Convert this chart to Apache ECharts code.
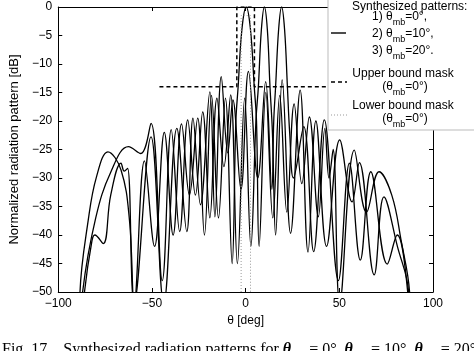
<!DOCTYPE html>
<html>
<head>
<meta charset="utf-8">
<script src="https://cdn.jsdelivr.net/npm/echarts@6/dist/echarts.min.js"></script>
<style>
  html, body { margin: 0; padding: 0; background: #fff; }
  #chart { width: 474px; height: 351px; }
</style>
</head>
<body>
<div id="chart"></div>
<script>
// [theta (deg), level (dB)]: nulls, lobe tops, beam shoulders
var pattern0 = [
    [-89, -62], [-88.4, -50], [-84, -37.4], [-79.6, -29.8], [-73.5, -25.4], [-66.5, -28.6], [-62, -37.4], [-59.5, -52],
    [-54, -27], [-48.6, -42], [-43.4, -22], [-38.7, -40], [-34.2, -20.5], [-30, -33], [-25.6, -19.5], [-22, -40],
    [-18.2, -15.5], [-14.5, -37], [-10.8, -16], [-7.2, -45],
    [-5.2, -20], [-4, -14], [-2, -4], [0.3, 0], [2.6, -4], [4.6, -14], [5.8, -20],
    [7.2, -42], [10.8, -15], [14.5, -37], [18.2, -15.5], [22, -36], [25.9, -17], [30, -31], [34, -19.3],
    [38.8, -36.8], [42.3, -21.3], [44.5, -30], [46.7, -25], [50.2, -52], [58, -25.1], [64.5, -36], [71.2, -28.9],
    [78, -33], [83, -41], [87.5, -50], [88.5, -62]
];
var pattern10 = [
    [-89, -62], [-87, -50], [-80, -37], [-72, -29], [-62.5, -24.5], [-56, -25.7], [-50.5, -20.4], [-44.5, -48],
    [-39.7, -21.5], [-35.2, -39.4], [-30.9, -19.8], [-26.8, -33], [-22.9, -18.4], [-19.1, -37], [-15.3, -16],
    [-11.6, -28], [-8, -15.4], [-4.4, -45], [-0.5, -16], [2.8, -42],
    [5.5, -20], [6.8, -14], [8.4, -4], [10, 0], [11.6, -4], [13, -14], [14.3, -22],
    [16, -40], [19.5, -12.8], [24, -39.7], [29.1, -14.6], [33.3, -43], [37.5, -20], [43.2, -42], [50.2, -23.3],
    [56.8, -34.2], [60.7, -27.3], [68.6, -47], [73.8, -33.3], [81, -42], [87, -50], [88, -62]
];
var pattern20 = [
    [-89, -62], [-86, -50], [-82, -41], [-80.5, -40], [-76, -41.5], [-72, -33], [-66.5, -27.4], [-64.8, -28.8],
    [-63, -28.3], [-59.5, -52], [-50.5, -22.8], [-43.7, -52], [-36.7, -21.3], [-31.4, -39.4], [-28.1, -19.5],
    [-24.1, -34.7], [-19.1, -14.9], [-16.4, -36.8], [-13, -12.2], [-9.5, -25.6], [-6.8, -16.3], [-2.5, -32],
    [1.5, -11.3], [6.5, -30], [10.7, -13.1], [14, -32],
    [15, -20], [16, -14], [17.6, -4], [19.2, 0], [20.8, -4], [22.3, -14], [23.5, -22],
    [25.5, -30], [31, -21], [36.3, -42.9], [42, -19.8], [49.5, -48], [55.4, -27.4], [61.2, -44.4], [66.8, -28.9],
    [75.6, -45.1], [80.9, -40], [86.5, -50], [88, -62]
];
var upperMask = [[-46, -14], [-4.7, -14], [-4.7, 0], [4.7, 0], [4.7, -14], [46, -14]];
var lowerMask = [[-2.4, -50], [-2.4, -1.5], [2.6, -1.5], [2.6, -50]];

var xTickStep = 50;
var yTickStep = 5;

var chart = echarts.init(document.getElementById('chart'));
var font = 'Liberation Sans, Arial, sans-serif';
var serif = 'Liberation Serif, Times New Roman, serif';
var minus = function (v) { return String(v).replace('-', '\u2212'); };

var curve = function (data) {
    return {
        type: 'line', data: data, symbol: 'none', smooth: 0.4,
        lineStyle: {color: '#000', width: 1.3}, silent: true
    };
};

// main text sits at the top of the line box, "mb" drops to the bottom of it
var sub = {
    a: {fontSize: 12, fontFamily: font, color: '#000', lineHeight: 12, verticalAlign: 'top'},
    s: {fontSize: 9, fontFamily: font, color: '#000', lineHeight: 16, verticalAlign: 'bottom'}
};

var frameLine = {onZero: false, lineStyle: {color: '#000', width: 1}};
var frameTick = {show: true, inside: true, length: 4, lineStyle: {color: '#000'}};

var option = {
    animation: false,
    grid: {left: 54, right: 41, top: 7, bottom: 59},
    xAxis: [{
        type: 'value', min: -100, max: 100, interval: xTickStep,
        name: '\u03b8 [deg]', nameLocation: 'middle', nameGap: 23,
        nameTextStyle: {fontFamily: font, fontSize: 12, color: '#000'},
        axisLine: frameLine, axisTick: frameTick,
        axisLabel: {fontFamily: font, fontSize: 12, color: '#000', margin: 6, formatter: minus},
        splitLine: {show: false}
    }, {
        type: 'value', min: -100, max: 100, interval: xTickStep, position: 'top',
        axisLine: frameLine, axisTick: frameTick,
        axisLabel: {show: false}, splitLine: {show: false}
    }],
    yAxis: [{
        type: 'value', min: -50, max: 0, interval: yTickStep,
        name: 'Normalized radiation pattern [dB]', nameLocation: 'middle', nameGap: 33,
        nameTextStyle: {fontFamily: font, fontSize: 13, color: '#000'},
        axisLine: {show: true, onZero: false, lineStyle: {color: '#000', width: 1}}, axisTick: frameTick,
        axisLabel: {fontFamily: font, fontSize: 12, color: '#000', margin: 6, formatter: minus},
        splitLine: {show: false}
    }, {
        type: 'value', min: -50, max: 0, interval: yTickStep, position: 'right',
        axisLine: {show: true, onZero: false, lineStyle: {color: '#000', width: 1}}, axisTick: frameTick,
        axisLabel: {show: false}, splitLine: {show: false}
    }],
    series: [
        curve(pattern0),
        curve(pattern10),
        curve(pattern20),
        {
            type: 'line', data: upperMask, symbol: 'none', silent: true,
            lineStyle: {color: '#000', width: 1.5, type: [4, 3]}
        },
        {
            type: 'line', data: lowerMask, symbol: 'none', silent: true,
            lineStyle: {color: '#999', width: 1, type: [1, 2]}
        }
    ],
    graphic: [
        {type: 'rect', shape: {x: 328, y: -2, width: 150, height: 132}, style: {fill: '#fff', stroke: '#bbb', lineWidth: 1}, z: 100},
        {type: 'line', shape: {x1: 331, y1: 33, x2: 346, y2: 33}, style: {stroke: '#000', lineWidth: 1.4}, z: 101},
        {type: 'line', shape: {x1: 331, y1: 82, x2: 347, y2: 82}, style: {stroke: '#000', lineWidth: 1.5, lineDash: [4, 3]}, z: 101},
        {type: 'line', shape: {x1: 331, y1: 115, x2: 347, y2: 115}, style: {stroke: '#999', lineWidth: 1, lineDash: [1, 2]}, z: 101},
        {type: 'text', x: 352, y: 1, z: 101, style: {text: 'Synthesized patterns:', font: '12px ' + font, fill: '#000'}},
        {type: 'text', x: 372, y: 11, z: 101, style: {text: '{a|1) \u03b8}{s|mb}{a|=0\u00b0,}', rich: sub}},
        {type: 'text', x: 372, y: 28, z: 101, style: {text: '{a|2) \u03b8}{s|mb}{a|=10\u00b0,}', rich: sub}},
        {type: 'text', x: 372, y: 45, z: 101, style: {text: '{a|3) \u03b8}{s|mb}{a|=20\u00b0.}', rich: sub}},
        {type: 'text', x: 403, y: 68, z: 101, style: {text: 'Upper bound mask', font: '12px ' + font, fill: '#000', align: 'center'}},
        {type: 'text', x: 405, y: 81, z: 101, style: {text: '{a|(\u03b8}{s|mb}{a|=0\u00b0)}', rich: sub, align: 'center'}},
        {type: 'text', x: 403, y: 100, z: 101, style: {text: 'Lower bound mask', font: '12px ' + font, fill: '#000', align: 'center'}},
        {type: 'text', x: 405, y: 113, z: 101, style: {text: '{a|(\u03b8}{s|mb}{a|=0\u00b0)}', rich: sub, align: 'center'}},
        {type: 'text', x: 2, y: 342, z: 101, style: {
            text: '{c|Fig. 17    Synthesized radiation patterns for }{t|\u03b8}{m|mb}{c| = 0\u00b0, }{t|\u03b8}{m|mb}{c| = 10\u00b0, }{t|\u03b8}{m|mb}{c| = 20\u00b0}',
            rich: {
                c: {fontSize: 16, fontFamily: serif, color: '#000', lineHeight: 16, verticalAlign: 'top'},
                t: {fontSize: 16, fontFamily: serif, fontWeight: 'bold', fontStyle: 'italic', color: '#000', lineHeight: 16, verticalAlign: 'top'},
                m: {fontSize: 11, fontFamily: serif, color: '#000', lineHeight: 23, verticalAlign: 'bottom'}
            }
        }}
    ]
};
chart.setOption(option);
</script>
</body>
</html>
